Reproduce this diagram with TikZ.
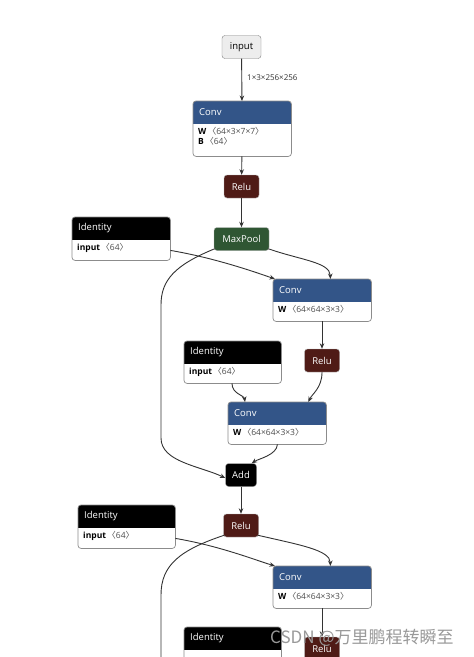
\documentclass[tikz,border=0pt]{standalone}
\usepackage{fontspec}
\setmainfont{Open Sans}
\newfontfamily\cjk{Noto Sans CJK SC}
\usetikzlibrary{arrows.meta}
\definecolor{convcol}{HTML}{335588}
\definecolor{relucol}{HTML}{4F1B16}
\definecolor{poolcol}{HTML}{2F5633}
\definecolor{linecol}{HTML}{333333}
\newcommand\shp[1]{{\color{black!70}{\cjk 〈}#1{\cjk 〉}}}
\tikzset{
  opframe/.style={draw=none, fill=white, inner sep=0pt},
  titletext/.style={text=white, font=\fontsize{9.5}{11}\selectfont, inner sep=0pt},
  bodytext/.style={font=\fontsize{8.5}{13}\selectfont, inner sep=0pt, align=left},
  smallop/.style={rounded corners=3pt, text=white, font=\fontsize{9.5}{11}\selectfont,
     minimum height=23pt, inner sep=0pt, draw=gray!60},
  conn/.style={draw=linecol, line width=0.9pt, -{Stealth[length=5.5pt,width=4.5pt]}},
  plain/.style={draw=linecol, line width=0.9pt},
}
\newcommand\opbox[8]{%
  \node[opframe, minimum width=#4pt, minimum height=#5pt, anchor=north west] (#1) at (#2,#3) {};
  \begin{scope}
    \clip[rounded corners=3pt] (#1.north west) rectangle (#1.south east);
    \fill[#6] (#1.north west) rectangle ([yshift=-23pt]#1.north east);
  \end{scope}
  \draw[rounded corners=3pt, draw=gray!90, line width=0.7pt] (#1.north west) rectangle (#1.south east);
  \node[titletext, anchor=west] (#1-t) at ([xshift=6pt, yshift=-11.5pt]#1.north west) {#7};
  \node[bodytext, anchor=north west] (#1-b) at ([xshift=5pt, yshift=-26pt]#1.north west) {#8};
}
\begin{document}
\begin{tikzpicture}[x=1pt,y=-1pt]
\useasboundingbox (0,0) rectangle (474,657);
\clip (0,0) rectangle (474,657);
\fill[white] (0,0) rectangle (474,657);

% simple nodes
\node[smallop, fill=black!7, draw=gray, text=black, minimum width=39pt] (input) at (241.5,47) {input};
\node[smallop, fill=relucol, minimum width=35pt] (relu1) at (241.5,186.5) {Relu};
\node[smallop, fill=poolcol, minimum width=55pt] (maxpool) at (241.5,239) {MaxPool};
\node[smallop, fill=relucol, minimum width=35pt] (relu2) at (322,360.5) {Relu};
\node[smallop, fill=black, minimum width=31pt] (add) at (241,475) {Add};
\node[smallop, fill=relucol, minimum width=35pt] (relu3) at (241,525.5) {Relu};
\node[smallop, fill=relucol, minimum width=35pt] (relu4) at (322,648.5) {Relu};

% composite nodes
\opbox{conv1}{193}{101}{98}{55}{convcol}{Conv}{\textbf{W}\,\shp{64×3×7×7}\\[-2.5pt]\textbf{B}\,\shp{64}}
\opbox{ident1}{72}{217}{98}{43}{black}{Identity}{\textbf{input}\,\shp{64}}
\opbox{conv2}{273}{279}{98}{42}{convcol}{Conv}{\textbf{W}\,\shp{64×64×3×3}}
\opbox{ident2}{184}{341}{97}{42}{black}{Identity}{\textbf{input}\,\shp{64}}
\opbox{conv3}{228}{402}{98}{42}{convcol}{Conv}{\textbf{W}\,\shp{64×64×3×3}}
\opbox{ident3}{78}{505}{97}{43}{black}{Identity}{\textbf{input}\,\shp{64}}
\opbox{conv4}{273}{566}{98}{42}{convcol}{Conv}{\textbf{W}\,\shp{64×64×3×3}}
\opbox{ident4}{184}{627}{97}{42}{black}{Identity}{}

% connectors
\draw[conn] (input) -- node[pos=0.44, right=5pt, font=\fontsize{8}{9}\selectfont, text=black!80, inner sep=0pt] {1×3×256×256} (conv1);
\draw[conn] (conv1) -- (relu1);
\draw[conn] (relu1) -- (maxpool);
\draw[conn] ([xshift=-1pt,yshift=2pt]maxpool.south east) .. controls (300,260) and (330,262) .. ([xshift=-41pt]conv2.north east);
\draw[conn] ([xshift=1pt,yshift=2pt]maxpool.south west) .. controls (175,265) and (161,280) .. (161,305) -- (161,438) .. controls (161,462) and (200,466) .. ([yshift=-3pt]add.west);
\draw[conn] ([yshift=10pt]ident1.south east) .. controls (215,258) and (255,272) .. ([xshift=2pt]conv2.north west);
\draw[conn] (conv2.south -| relu2) -- (relu2);
\draw[conn] ([xshift=48pt]ident2.south west) .. controls (232,394) and (244,395) .. ([xshift=17pt]conv3.north west);
\draw[conn] (relu2) .. controls (322,388) and (312,394) .. ([xshift=-18pt]conv3.north east);
\draw[conn] ([xshift=-49pt]conv3.south east) .. controls (277,455) and (258,459) .. ([xshift=-5pt]add.north east);
\draw[conn] (add) -- (relu3);
\draw[conn] ([xshift=-1pt,yshift=2pt]relu3.south east) .. controls (300,545) and (330,550) .. ([xshift=-41pt]conv4.north east);
\draw[plain] ([xshift=1pt,yshift=2pt]relu3.south west) .. controls (180,550) and (161,565) .. (161,595) -- (161,660);
\draw[conn] ([yshift=10pt]ident3.south east) .. controls (220,546) and (255,560) .. ([xshift=2pt]conv4.north west);
\draw[conn] (conv4.south -| relu4) -- (relu4);

% watermark
\node[anchor=west, inner sep=0pt, text=black!40, font=\cjk\fontsize{17}{19}\selectfont] (wm) at (270,638) {CSDN @万里鹏程转瞬至};
\end{tikzpicture}
\end{document}
